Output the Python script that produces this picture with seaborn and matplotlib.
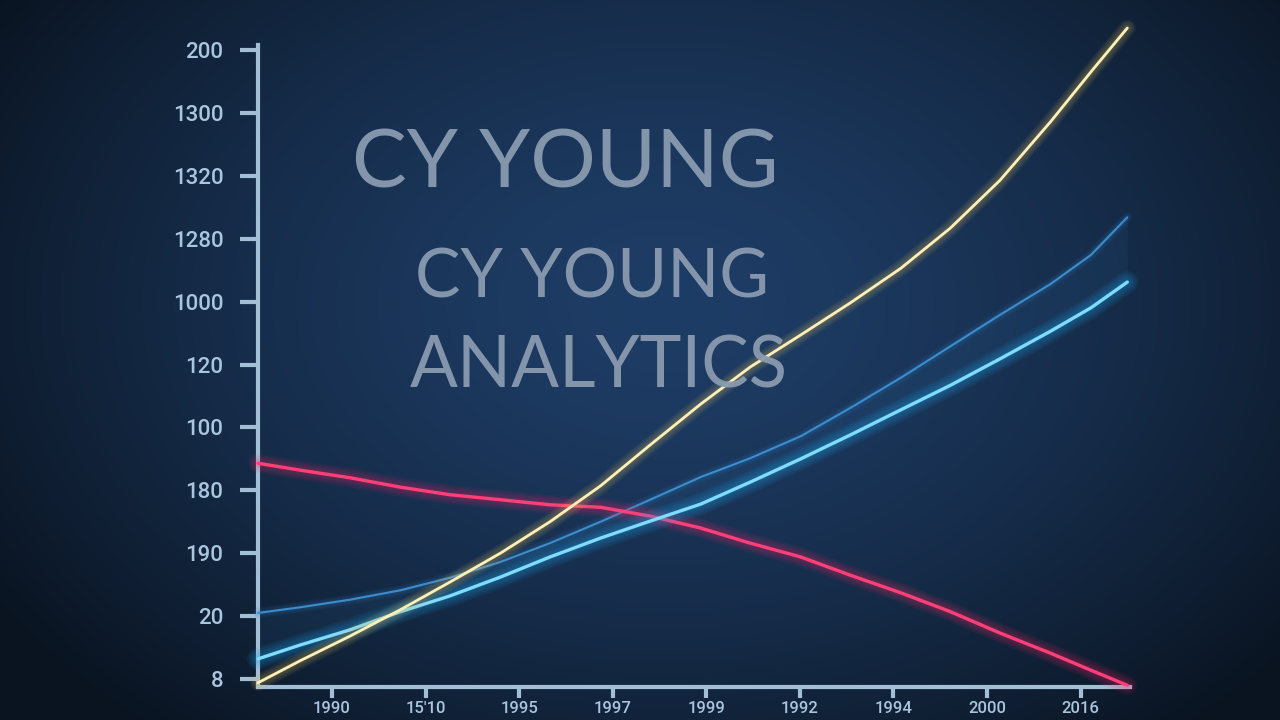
import numpy as np
import pandas as pd
import matplotlib
matplotlib.use("Agg")
import matplotlib.pyplot as plt
import seaborn as sns

# ---------------- data ----------------
x_pos = [0.21, 0.66, 1.19, 1.73, 2.26, 2.80, 3.33, 3.87, 4.40, 4.94,
         5.47, 6.01, 6.54, 7.08, 7.61, 8.14, 8.68, 9.11, 9.50]
yellow = [-0.06, 0.29, 0.68, 1.10, 1.54, 2.00, 2.50, 3.07, 3.72, 4.37,
          4.96, 5.47, 5.98, 6.53, 7.17, 7.93, 8.86, 9.65, 10.35]
pink = [3.43, 3.32, 3.20, 3.05, 2.93, 2.85, 2.77, 2.73, 2.59, 2.40,
        2.16, 1.94, 1.65, 1.37, 1.07, 0.73, 0.41, 0.14, -0.10]
blue = [0.32, 0.54, 0.78, 1.07, 1.32, 1.62, 1.94, 2.24, 2.51, 2.78,
        3.13, 3.50, 3.88, 4.28, 4.67, 5.09, 5.53, 5.90, 6.31]
blue_upper = [1.05, 1.14, 1.26, 1.41, 1.61, 1.86, 2.16, 2.50, 2.85, 3.21,
              3.51, 3.86, 4.31, 4.79, 5.29, 5.79, 6.28, 6.74, 7.34]

x_ticks = [1, 2, 3, 4, 5, 6, 7, 8, 9]
x_labels = ["1990", "15'10", "1995", "1997", "1999", "1992", "1994", "2000", "2016"]
y_ticks = [0, 1, 2, 3, 4, 5, 6, 7, 8, 9, 10]
y_labels = ["8", "20", "190", "180", "100", "120", "1000", "1280", "1320", "1300", "200"]

title_lines = ["CY YOUNG", "CY YOUNG", "ANALYTICS"]

df = pd.DataFrame({"x": x_pos, "yellow": yellow, "pink": pink,
                   "blue": blue, "blue_upper": blue_upper})

sns.set_theme(style="white")
plt.rcParams["font.family"] = ["Lato", "DejaVu Sans"]

fig = plt.figure(figsize=(12.8, 7.2), dpi=100)

# background radial gradient
bg = fig.add_axes([0, 0, 1, 1], zorder=-10)
H, W = 360, 640
yy, xx = np.mgrid[0:H, 0:W]
cx, cy = 0.52 * W, 0.42 * H
d = np.sqrt(((xx - cx) / (0.62 * W)) ** 2 + ((yy - cy) / (0.78 * H)) ** 2)
d = np.clip(d, 0, 1)
c_in = np.array([0x1e, 0x3d, 0x66]) / 255
c_out = np.array([0x0a, 0x14, 0x21]) / 255
t = d[..., None] ** 1.5
img = c_in * (1 - t) + c_out * t
bg.imshow(img, aspect="auto", extent=[0, 1, 0, 1], origin="upper")
bg.set_axis_off()

ax = fig.add_axes([0.2016, 0.0456, 0.6813, 0.9286])
ax.set_facecolor("none")
ax.patch.set_alpha(0)

# faint band between the two blue lines
ax.fill_between(df["x"], df["blue"], df["blue_upper"], color="#3a8fd0", alpha=0.08, lw=0)


def glow(col, color, core, core_w, glow_w, glow_a, z):
    for w in np.linspace(glow_w, core_w * 1.5, 6):
        sns.lineplot(data=df, x="x", y=col, ax=ax, color=color, lw=w,
                     alpha=glow_a, solid_capstyle="round", solid_joinstyle="round",
                     zorder=z, clip_on=False)
    sns.lineplot(data=df, x="x", y=col, ax=ax, color=core, lw=core_w,
                 solid_capstyle="round", solid_joinstyle="round", zorder=z + 1, clip_on=False)


glow("blue_upper", "#2f7fc0", "#3d8ccb", 1.5, 8, 0.05, 3)
glow("pink", "#ff2a6a", "#ff3f78", 2.4, 14, 0.06, 4)
glow("blue", "#1aa8ee", "#80dcff", 2.4, 16, 0.07, 5)
glow("yellow", "#e0c060", "#fff0b8", 2.0, 12, 0.06, 6)

ax.set_xlim(0.21, 9.53)
ax.set_ylim(-0.13, 10.5)
ax.set_xlabel("")
ax.set_ylabel("")

for s in ["top", "right"]:
    ax.spines[s].set_visible(False)
spine_col = "#a3bfd6"
ax.spines["left"].set_color(spine_col)
ax.spines["bottom"].set_color(spine_col)
ax.spines["left"].set_linewidth(3)
ax.spines["bottom"].set_linewidth(3)
ax.spines["left"].set_bounds(-0.13, 10.08)

ax.set_xticks(x_ticks)
ax.set_xticklabels(x_labels)
ax.set_yticks(y_ticks)
ax.set_yticklabels(y_labels)
ax.tick_params(axis="y", colors=spine_col, length=13, width=3, pad=12,
               labelsize=16, direction="out", left=True)
ax.tick_params(axis="x", colors=spine_col, length=8, width=3, pad=2,
               labelsize=12, direction="out", bottom=True)
for lab in ax.get_yticklabels() + ax.get_xticklabels():
    lab.set_family(["Roboto", "DejaVu Sans"])
    lab.set_fontweight("medium")
    lab.set_color("#a9c6de")

# title texts
tc = "#8a9bb0"
fig.text(352 / 1280, 1 - 188 / 720, title_lines[0], fontsize=59, color=tc,
         ha="left", va="baseline", alpha=0.95, zorder=1)
fig.text(415 / 1280, 1 - 298 / 720, title_lines[1], fontsize=49, color=tc,
         ha="left", va="baseline", alpha=0.95, zorder=1)
fig.text(410 / 1280, 1 - 388 / 720, title_lines[2], fontsize=51, color=tc,
         ha="left", va="baseline", alpha=0.95, zorder=1)

fig.savefig("out.png", dpi=100)
